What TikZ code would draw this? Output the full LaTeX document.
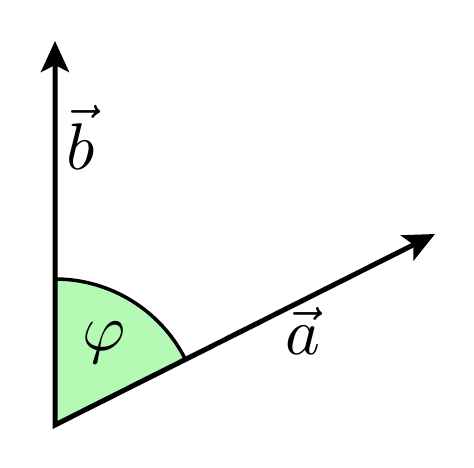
\documentclass[tikz,border=0pt]{standalone}
\usepackage{tikz}
\usetikzlibrary{arrows.meta}
\definecolor{anglegreen}{RGB}{180,250,180}
\tikzset{myvec/.style={
  line width=5pt,
  draw=black,
  line join=miter,
  {Stealth[length=31pt,width=28pt,inset=7pt]}-{Stealth[length=31pt,width=28pt,inset=7pt]},
  },
  mysector/.style={
  fill=anglegreen,
  draw=black,
  line width=3.5pt,
  },
  mylabel/.style={
  scale=6.6,
  inner sep=0pt,
  }
}

\begin{document}
\begin{tikzpicture}[x=1pt,y=1pt]
      \useasboundingbox (0,0) rectangle (474,468);
      \coordinate (o) at (55,43);
      \coordinate (b) at (55,427);
      \coordinate (a) at (435,234);

      \filldraw [mysector] (o) -- ++(26.7:146) arc [start angle=26.7, end angle=90, radius=146] -- cycle;
      \draw [myvec] (b) -- (o) -- (a);

      \node [mylabel, anchor=base] (lb) at (81,298) {\( \vec{b} \)};
      \node [mylabel, anchor=base] (la) at (303,113) {\( \vec{a} \)};
      \node [mylabel] (lphi) at (104,125) {\( \varphi \)};
    \end{tikzpicture}
\end{document}
